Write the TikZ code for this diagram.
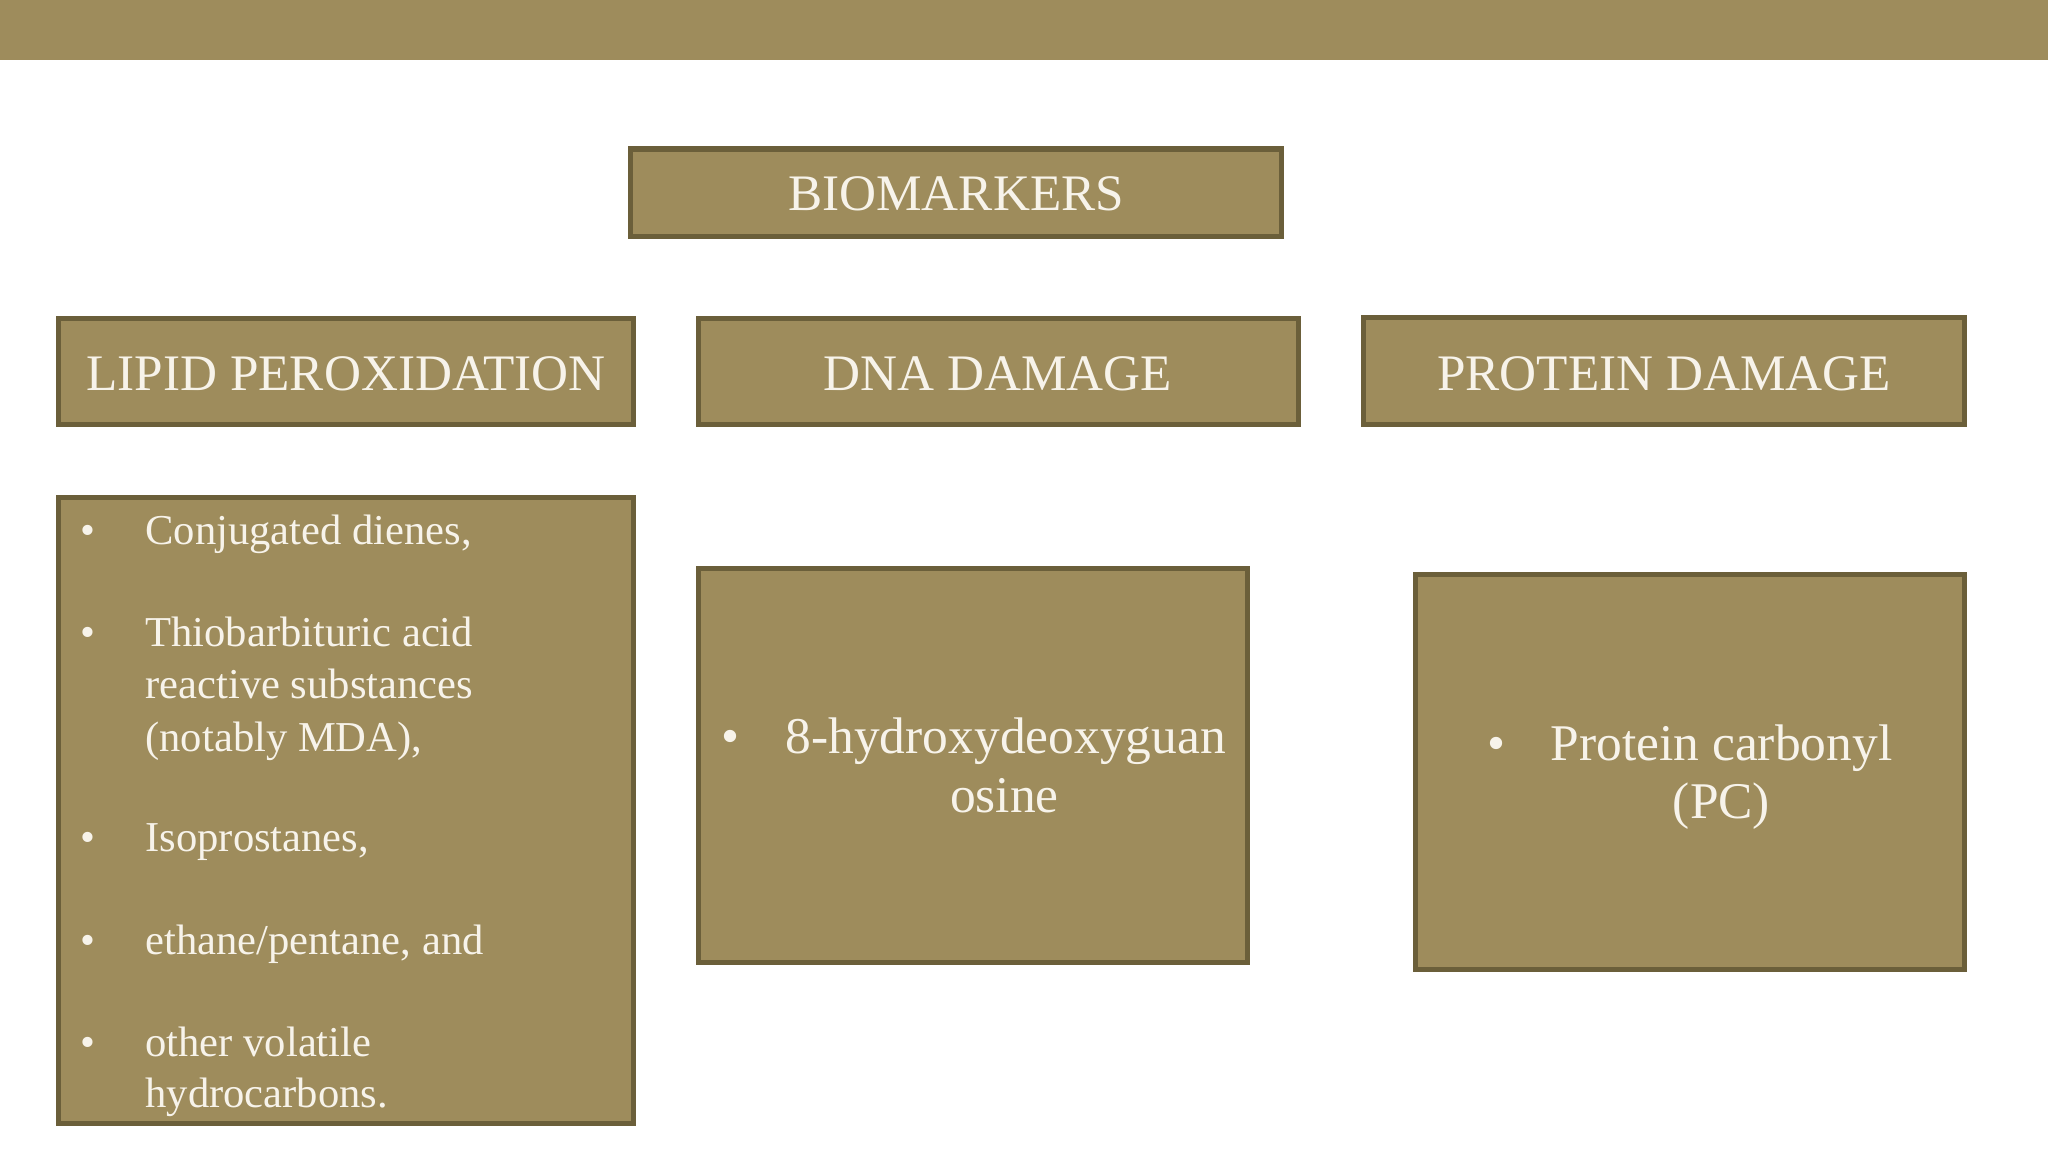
\documentclass[tikz,border=0pt]{standalone}
\usepackage{fontspec}
\setmainfont{Liberation Serif}
\definecolor{olive}{HTML}{9E8C5C}
\definecolor{edge}{HTML}{6B5F3A}
\definecolor{txt}{HTML}{F7F3EA}
\begin{document}
\begin{tikzpicture}[x=0.5pt,y=-0.5pt,
 box/.style={draw=edge,line width=2pt,fill=olive},
 lab/.style={text=txt,inner sep=0pt},
 hd/.style={lab,font=\fontsize{19.6}{24}\selectfont},
 li/.style={lab,anchor=base west,font=\fontsize{16.3}{19}\selectfont},
 bl/.style={lab,anchor=base,font=\fontsize{16.3}{19}\selectfont},
 big/.style={lab,anchor=base,font=\fontsize{19.7}{23}\selectfont}]
\useasboundingbox (0,0) rectangle (1568,882);
\fill[olive] (0,0) rectangle (1568,46);
\draw[box] (483,114) rectangle (981,181);
\node[hd] (bio) at (732,148) {BIOMARKERS};
\draw[box] (45,244) rectangle (485,325);
\node[hd] (lipid) at (265,286) {LIPID PEROXIDATION};
\draw[box] (535,244) rectangle (994,325);
\node[hd] (dna) at (764,286) {DNA DAMAGE};
\draw[box] (1044,243) rectangle (1504,325);
\node[hd] (prot) at (1274,286) {PROTEIN DAMAGE};
\draw[box] (45,381) rectangle (485,860);
\foreach \y/\t [count=\i] in {417/{Conjugated dienes,},495/{Thiobarbituric acid},652/{Isoprostanes,},731/{ethane/pentane, and},809/{other volatile}}{
  \node[bl] (b\i) at (67,\y) {\textbullet};
  \node[li] (t\i) at (111,\y) {\t};}
\node[li] (t2b) at (111,535) {reactive substances};
\node[li] (t2c) at (111,575) {(notably MDA),};
\node[li] (t5b) at (111,848) {hydrocarbons.};
\draw[box] (535,435) rectangle (955,737);
\node[big] (db) at (559,577) {\textbullet};
\node[big] (d1) at (770,577) {8-hydroxydeoxyguan};
\node[big] (d2) at (769,622) {osine};
\draw[box] (1084,440) rectangle (1504,742);
\node[big] (pb) at (1146,582) {\textbullet};
\node[big] (p1) at (1318,582) {Protein carbonyl};
\node[big] (p2) at (1318,627) {(PC)};
\end{tikzpicture}
\end{document}
